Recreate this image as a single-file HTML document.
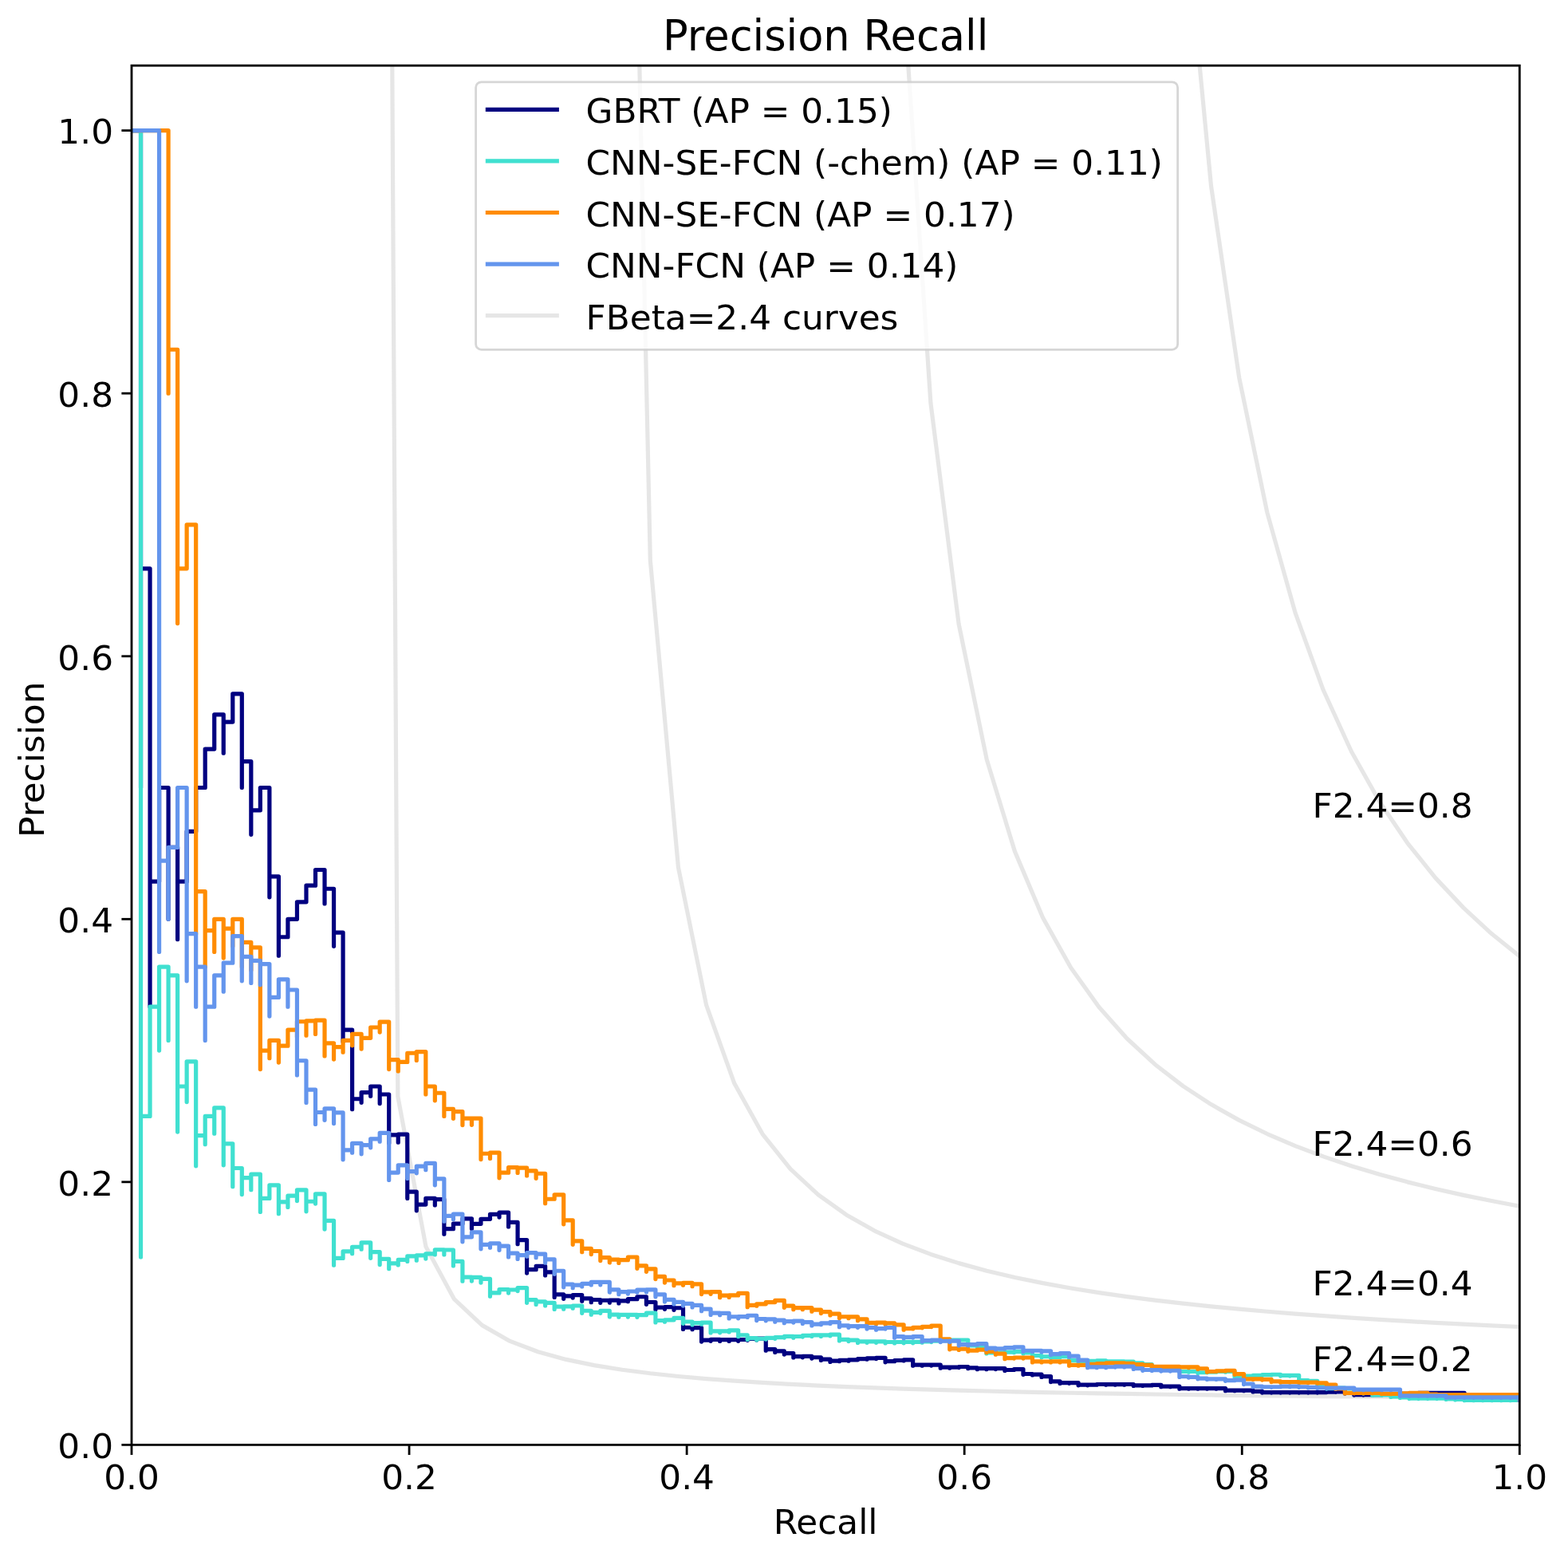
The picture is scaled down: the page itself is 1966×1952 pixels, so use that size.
<!DOCTYPE html>
<html><head><meta charset="utf-8"><title>Precision Recall</title>
<style>html,body{margin:0;padding:0;background:#fff;overflow:hidden;}svg{display:block;}</style>
</head><body>
<svg width="1966" height="1952" viewBox="0 0 1966 1952">
<rect x="0" y="0" width="1966" height="1952" fill="#ffffff"/>
<clipPath id="ax"><rect x="165.0" y="82.2" width="1740.30" height="1729.20"/></clipPath>
<g clip-path="url(#ax)" fill="none" stroke="#808080" stroke-opacity="0.2" stroke-width="5.2" stroke-linecap="square" stroke-linejoin="round">
<path d="M463.69 -5055.79 L498.85 1374.84 L534.01 1563.07 L569.18 1628.28 L604.34 1661.38 L639.5 1681.39 L674.66 1694.8 L709.82 1704.41 L744.98 1711.63 L780.14 1717.26 L815.3 1721.77 L850.47 1725.47 L885.63 1728.55 L920.79 1731.16 L955.95 1733.4 L991.11 1735.34 L1026.27 1737.04 L1061.43 1738.55 L1096.59 1739.88 L1131.75 1741.07 L1166.92 1742.15 L1202.08 1743.12 L1237.24 1744.01 L1272.4 1744.82 L1307.56 1745.56 L1342.72 1746.24 L1377.88 1746.87 L1413.04 1747.45 L1448.2 1747.99 L1483.37 1748.5 L1518.53 1748.97 L1553.69 1749.41 L1588.85 1749.82 L1624.01 1750.21 L1659.17 1750.58 L1694.33 1750.92 L1729.49 1751.25 L1764.66 1751.55 L1799.82 1751.84 L1834.98 1752.12 L1870.14 1752.38 L1905.3 1752.63"/>
<path d="M780.14 -914.99 L815.3 702.12 L850.47 1087.46 L885.63 1260.24 L920.79 1358.31 L955.95 1421.52 L991.11 1465.65 L1026.27 1498.2 L1061.43 1523.21 L1096.59 1543.02 L1131.75 1559.1 L1166.92 1572.42 L1202.08 1583.62 L1237.24 1593.18 L1272.4 1601.44 L1307.56 1608.63 L1342.72 1614.97 L1377.88 1620.58 L1413.04 1625.59 L1448.2 1630.09 L1483.37 1634.15 L1518.53 1637.84 L1553.69 1641.2 L1588.85 1644.28 L1624.01 1647.1 L1659.17 1649.71 L1694.33 1652.12 L1729.49 1654.36 L1764.66 1656.44 L1799.82 1658.38 L1834.98 1660.19 L1870.14 1661.89 L1905.3 1663.48"/>
<path d="M1061.43 -17708.53 L1096.59 -1442.11 L1131.75 -23.93 L1166.92 505.39 L1202.08 782.11 L1237.24 952.22 L1272.4 1067.37 L1307.56 1150.5 L1342.72 1213.33 L1377.88 1262.49 L1413.04 1302 L1448.2 1334.45 L1483.37 1361.58 L1518.53 1384.59 L1553.69 1404.36 L1588.85 1421.53 L1624.01 1436.57 L1659.17 1449.87 L1694.33 1461.7 L1729.49 1472.3 L1764.66 1481.86 L1799.82 1490.51 L1834.98 1498.37 L1870.14 1505.57 L1905.3 1512.16"/>
<path d="M1377.88 -7081.9 L1413.04 -2129.5 L1448.2 -770.51 L1483.37 -135.08 L1518.53 233.15 L1553.69 473.45 L1588.85 642.62 L1624.01 768.16 L1659.17 865.03 L1694.33 942.04 L1729.49 1004.74 L1764.66 1056.76 L1799.82 1100.63 L1834.98 1138.13 L1870.14 1170.54 L1905.3 1198.83"/>
</g>
<g clip-path="url(#ax)" fill="none" stroke-width="5.2" stroke-linecap="square" stroke-linejoin="round">
<path stroke="#000080" d="M1905.3 1755.4 L1905.3 1749.99 L1893.77 1749.99 L1893.77 1750.39 L1893.77 1750.01 L1882.25 1750.01 L1882.25 1750.4 L1882.25 1750 L1870.72 1750 L1870.72 1750.4 L1870.72 1750 L1859.2 1750 L1859.2 1750.4 L1859.2 1748.6 L1847.67 1748.6 L1847.67 1749.01 L1847.67 1748.6 L1836.15 1748.6 L1836.15 1749.02 L1836.15 1746.4 L1824.62 1746.4 L1824.62 1746.83 L1824.62 1746.41 L1813.1 1746.41 L1813.1 1746.84 L1813.1 1746.4 L1801.57 1746.4 L1801.57 1746.83 L1801.57 1746.4 L1790.05 1746.4 L1790.05 1746.84 L1790.05 1746.39 L1778.52 1746.39 L1778.52 1746.83 L1778.52 1746.82 L1767 1746.82 L1767 1747.26 L1755.47 1747.26 L1755.47 1747.7 L1743.95 1747.7 L1743.95 1748.15 L1732.42 1748.15 L1732.42 1748.59 L1720.9 1748.59 L1720.9 1749.04 L1720.9 1748.6 L1709.37 1748.6 L1709.37 1749.04 L1709.37 1748.6 L1697.85 1748.6 L1697.85 1749.05 L1697.85 1746.5 L1686.32 1746.5 L1686.32 1746.97 L1686.32 1744.8 L1674.8 1744.8 L1674.8 1745.29 L1674.8 1745.1 L1663.27 1745.1 L1663.27 1745.59 L1651.75 1745.59 L1651.75 1746.08 L1651.75 1745.59 L1640.22 1745.59 L1640.22 1746.08 L1640.22 1745.59 L1628.7 1745.59 L1628.7 1746.08 L1628.7 1745.59 L1617.17 1745.59 L1617.17 1746.09 L1617.17 1745.59 L1605.65 1745.59 L1605.65 1746.09 L1605.65 1745.59 L1594.12 1745.59 L1594.12 1746.1 L1594.12 1745.59 L1582.6 1745.59 L1582.6 1746.1 L1582.6 1744.35 L1571.07 1744.35 L1571.07 1744.88 L1571.07 1743.11 L1559.55 1743.11 L1559.55 1743.65 L1559.55 1743.09 L1548.02 1743.09 L1548.02 1743.64 L1548.02 1743.1 L1536.49 1743.1 L1536.49 1743.64 L1536.49 1740.61 L1524.97 1740.61 L1524.97 1741.18 L1524.97 1740.62 L1513.44 1740.62 L1513.44 1741.19 L1513.44 1740.62 L1501.92 1740.62 L1501.92 1741.2 L1501.92 1740.63 L1490.39 1740.63 L1490.39 1741.22 L1490.39 1740.61 L1478.87 1740.61 L1478.87 1741.2 L1478.87 1738.14 L1467.34 1738.14 L1467.34 1738.75 L1467.34 1738.15 L1455.82 1738.15 L1455.82 1738.77 L1455.82 1736.29 L1444.29 1736.29 L1444.29 1736.93 L1444.29 1736.78 L1432.77 1736.78 L1432.77 1737.42 L1432.77 1736.78 L1421.24 1736.78 L1421.24 1737.43 L1421.24 1735.52 L1409.72 1735.52 L1409.72 1736.18 L1409.72 1735.54 L1398.19 1735.54 L1398.19 1736.21 L1398.19 1735.53 L1386.67 1735.53 L1386.67 1736.21 L1386.67 1735.52 L1375.14 1735.52 L1375.14 1736.21 L1375.14 1736.14 L1363.62 1736.14 L1363.62 1736.83 L1363.62 1736.14 L1352.09 1736.14 L1352.09 1736.83 L1352.09 1733.65 L1340.57 1733.65 L1340.57 1734.37 L1340.57 1733.66 L1329.04 1733.66 L1329.04 1734.39 L1329.04 1731.81 L1317.52 1731.81 L1317.52 1732.56 L1317.52 1725.58 L1305.99 1725.58 L1305.99 1726.39 L1305.99 1723.12 L1294.47 1723.12 L1294.47 1723.97 L1294.47 1722.48 L1282.94 1722.48 L1282.94 1723.34 L1282.94 1716.6 L1271.42 1716.6 L1271.42 1717.52 L1259.89 1717.52 L1259.89 1718.44 L1259.89 1715.66 L1248.37 1715.66 L1248.37 1716.61 L1248.37 1715.67 L1236.84 1715.67 L1236.84 1716.63 L1236.84 1715.68 L1225.32 1715.68 L1225.32 1716.65 L1225.32 1714.78 L1213.79 1714.78 L1213.79 1715.77 L1213.79 1713.52 L1202.26 1713.52 L1202.26 1714.53 L1202.26 1714.15 L1190.74 1714.15 L1190.74 1715.17 L1190.74 1714.15 L1179.21 1714.15 L1179.21 1715.18 L1179.21 1711.05 L1167.69 1711.05 L1167.69 1712.12 L1167.69 1711.08 L1156.16 1711.08 L1156.16 1712.16 L1156.16 1711.04 L1144.64 1711.04 L1144.64 1712.13 L1144.64 1704.81 L1133.11 1704.81 L1133.11 1705.98 L1133.11 1705.5 L1121.59 1705.5 L1121.59 1706.68 L1110.06 1706.68 L1110.06 1707.86 L1110.06 1702.34 L1098.54 1702.34 L1098.54 1703.59 L1098.54 1702.97 L1087.01 1702.97 L1087.01 1704.23 L1087.01 1703.61 L1075.49 1703.61 L1075.49 1704.87 L1063.96 1704.87 L1063.96 1706.14 L1063.96 1705.44 L1052.44 1705.44 L1052.44 1706.71 L1052.44 1706.1 L1040.91 1706.1 L1040.91 1707.39 L1040.91 1704.18 L1029.39 1704.18 L1029.39 1705.5 L1029.39 1701.74 L1017.86 1701.74 L1017.86 1703.11 L1017.86 1700.45 L1006.34 1700.45 L1006.34 1701.85 L1006.34 1700.53 L994.81 1700.53 L994.81 1701.95 L994.81 1696.55 L983.29 1696.55 L983.29 1698.03 L983.29 1693.94 L971.76 1693.94 L971.76 1695.47 L971.76 1691.62 L960.24 1691.62 L960.24 1693.21 L960.24 1678.11 L948.71 1678.11 L948.71 1679.89 L948.71 1678.48 L937.19 1678.48 L937.19 1680.28 L937.19 1679.5 L925.66 1679.5 L925.66 1681.31 L925.66 1679.58 L914.14 1679.58 L914.14 1681.42 L914.14 1679.66 L902.61 1679.66 L902.61 1681.52 L902.61 1679.41 L891.09 1679.41 L891.09 1681.31 L891.09 1680.16 L879.56 1680.16 L879.56 1682.08 L879.56 1664.61 L868.04 1664.61 L868.04 1666.77 L868.04 1664.23 L856.51 1664.23 L856.51 1666.43 L856.51 1639.75 L844.98 1639.75 L844.98 1642.32 L844.98 1638.72 L833.46 1638.72 L833.46 1641.34 L833.46 1639.2 L821.93 1639.2 L821.93 1641.86 L821.93 1632.5 L810.41 1632.5 L810.41 1635.3 L810.41 1625.73 L798.88 1625.73 L798.88 1628.68 L787.36 1628.68 L787.36 1631.64 L787.36 1630.91 L775.83 1630.91 L775.83 1633.89 L775.83 1630.21 L764.31 1630.21 L764.31 1633.26 L764.31 1630.25 L752.78 1630.25 L752.78 1633.35 L752.78 1629.5 L741.26 1629.5 L741.26 1632.68 L741.26 1627.9 L729.73 1627.9 L729.73 1631.17 L729.73 1623.63 L718.21 1623.63 L718.21 1627.03 L718.21 1624.86 L706.68 1624.86 L706.68 1628.31 L706.68 1622.97 L695.16 1622.97 L695.16 1626.52 L695.16 1594.83 L683.63 1594.83 L683.63 1598.93 L683.63 1587.38 L672.11 1587.38 L672.11 1591.69 L660.58 1591.69 L660.58 1596.03 L660.58 1554.68 L649.06 1554.68 L649.06 1559.74 L649.06 1532.34 L637.53 1532.34 L637.53 1537.88 L637.53 1520.19 L626.01 1520.19 L626.01 1526.07 L626.01 1522.31 L614.48 1522.31 L614.48 1528.3 L602.96 1528.3 L602.96 1534.34 L591.43 1534.34 L591.43 1540.43 L591.43 1527.83 L579.91 1527.83 L579.91 1534.2 L568.38 1534.2 L568.38 1540.63 L556.86 1540.63 L556.86 1547.13 L556.86 1503.57 L545.33 1503.57 L545.33 1510.97 L545.33 1502.44 L533.81 1502.44 L533.81 1510.09 L522.28 1510.09 L522.28 1517.83 L522.28 1494.12 L510.75 1494.12 L510.75 1502.44 L510.75 1422.16 L499.23 1422.16 L499.23 1432.14 L499.23 1422.89 L487.7 1422.89 L487.7 1433.22 L487.7 1371.99 L476.18 1371.99 L476.18 1383.61 L476.18 1362 L464.65 1362 L464.65 1374.23 L464.65 1369.72 L453.13 1369.72 L453.13 1382.29 L453.13 1377.77 L441.6 1377.77 L441.6 1390.69 L441.6 1291.04 L430.08 1291.04 L430.08 1306.07 L430.08 1169.04 L418.55 1169.04 L418.55 1186.37 L418.55 1114.25 L407.03 1114.25 L407.03 1132.89 L407.03 1090.49 L395.5 1090.49 L395.5 1110.21 L383.98 1110.21 L383.98 1130.79 L372.45 1130.79 L372.45 1152.28 L360.93 1152.28 L360.93 1174.75 L349.4 1174.75 L349.4 1198.27 L349.4 1098.84 L337.88 1098.84 L337.88 1124.82 L337.88 987.5 L326.35 987.5 L326.35 1015.91 L314.83 1015.91 L314.83 1046.35 L314.83 954.54 L303.3 954.54 L303.3 987.5 L303.3 869.8 L291.78 869.8 L291.78 905.11 L280.25 905.11 L280.25 944.14 L280.25 895.96 L268.73 895.96 L268.73 939.04 L257.2 939.04 L257.2 987.5 L245.68 987.5 L245.68 1042.43 L234.15 1042.43 L234.15 1105.2 L222.63 1105.2 L222.63 1177.63 L222.63 1062.4 L211.1 1062.4 L211.1 1152.28 L211.1 987.5 L199.58 987.5 L199.58 1105.2 L188.05 1105.2 L188.05 1262.13 L188.05 712.87 L176.53 712.87 L176.53 987.5 L176.53 163.6 L165 163.6"/>
<path stroke="#40e0d0" d="M1905.3 1755.4 L1893.77 1755.4 L1893.77 1755.76 L1893.77 1755.4 L1882.25 1755.4 L1882.25 1755.76 L1882.25 1755.4 L1870.72 1755.4 L1870.72 1755.76 L1870.72 1755.4 L1859.2 1755.4 L1859.2 1755.77 L1859.2 1755.39 L1847.67 1755.39 L1847.67 1755.76 L1847.67 1755.4 L1836.15 1755.4 L1836.15 1755.77 L1836.15 1754.5 L1824.62 1754.5 L1824.62 1754.88 L1824.62 1754 L1813.1 1754 L1813.1 1754.39 L1813.1 1753.2 L1801.57 1753.2 L1801.57 1753.6 L1801.57 1753.19 L1790.05 1753.19 L1790.05 1753.59 L1790.05 1753.2 L1778.52 1753.2 L1778.52 1753.6 L1778.52 1753.2 L1767 1753.2 L1767 1753.6 L1767 1752 L1755.47 1752 L1755.47 1752.41 L1755.47 1751 L1743.95 1751 L1743.95 1751.42 L1743.95 1749 L1732.42 1749 L1732.42 1749.44 L1732.42 1748.99 L1720.9 1748.99 L1720.9 1749.44 L1720.9 1746.51 L1709.37 1746.51 L1709.37 1746.97 L1709.37 1744 L1697.85 1744 L1697.85 1744.48 L1697.85 1741 L1686.32 1741 L1686.32 1741.51 L1686.32 1740.09 L1674.8 1740.09 L1674.8 1740.6 L1663.27 1740.6 L1663.27 1741.12 L1663.27 1738.14 L1651.75 1738.14 L1651.75 1738.68 L1651.75 1731.31 L1640.22 1731.31 L1640.22 1731.9 L1640.22 1730.68 L1628.7 1730.68 L1628.7 1731.28 L1628.7 1724.46 L1617.17 1724.46 L1617.17 1725.11 L1617.17 1724.46 L1605.65 1724.46 L1605.65 1725.11 L1605.65 1723.23 L1594.12 1723.23 L1594.12 1723.89 L1594.12 1723.71 L1582.6 1723.71 L1582.6 1724.38 L1571.07 1724.38 L1571.07 1725.05 L1559.55 1725.05 L1559.55 1725.72 L1548.02 1725.72 L1548.02 1726.39 L1548.02 1719.52 L1536.49 1719.52 L1536.49 1720.24 L1536.49 1719.51 L1524.97 1719.51 L1524.97 1720.24 L1524.97 1720.11 L1513.44 1720.11 L1513.44 1720.84 L1513.44 1720.76 L1501.92 1720.76 L1501.92 1721.49 L1501.92 1719.5 L1490.39 1719.5 L1490.39 1720.25 L1490.39 1719.5 L1478.87 1719.5 L1478.87 1720.26 L1478.87 1715.75 L1467.34 1715.75 L1467.34 1716.54 L1467.34 1715.17 L1455.82 1715.17 L1455.82 1715.97 L1455.82 1714.52 L1444.29 1714.52 L1444.29 1715.34 L1444.29 1710.68 L1432.77 1710.68 L1432.77 1711.53 L1432.77 1708.82 L1421.24 1708.82 L1421.24 1709.7 L1421.24 1706.98 L1409.72 1706.98 L1409.72 1707.87 L1409.72 1706.96 L1398.19 1706.96 L1398.19 1707.87 L1398.19 1706.95 L1386.67 1706.95 L1386.67 1707.86 L1386.67 1705.73 L1375.14 1705.73 L1375.14 1706.67 L1375.14 1706.35 L1363.62 1706.35 L1363.62 1707.29 L1363.62 1706.97 L1352.09 1706.97 L1352.09 1707.91 L1352.09 1705.72 L1340.57 1705.72 L1340.57 1706.68 L1340.57 1700.75 L1329.04 1700.75 L1329.04 1701.76 L1329.04 1701.4 L1317.52 1701.4 L1317.52 1702.42 L1317.52 1700.74 L1305.99 1700.74 L1305.99 1701.77 L1305.99 1699.51 L1294.47 1699.51 L1294.47 1700.57 L1294.47 1695.81 L1282.94 1695.81 L1282.94 1696.9 L1282.94 1694.56 L1271.42 1694.56 L1271.42 1695.68 L1271.42 1695.17 L1259.89 1695.17 L1259.89 1696.3 L1259.89 1695.79 L1248.37 1695.79 L1248.37 1696.92 L1248.37 1695.81 L1236.84 1695.81 L1236.84 1696.95 L1236.84 1687.72 L1225.32 1687.72 L1225.32 1688.95 L1225.32 1686.83 L1213.79 1686.83 L1213.79 1688.09 L1213.79 1679.98 L1202.26 1679.98 L1202.26 1681.31 L1202.26 1680.04 L1190.74 1680.04 L1190.74 1681.39 L1190.74 1680.58 L1179.21 1680.58 L1179.21 1681.93 L1179.21 1681.23 L1167.69 1681.23 L1167.69 1682.6 L1167.69 1681.9 L1156.16 1681.9 L1156.16 1683.27 L1156.16 1682.45 L1144.64 1682.45 L1144.64 1683.84 L1144.64 1682.43 L1133.11 1682.43 L1133.11 1683.83 L1133.11 1682.52 L1121.59 1682.52 L1121.59 1683.94 L1121.59 1682.5 L1110.06 1682.5 L1110.06 1683.93 L1110.06 1681.85 L1098.54 1681.85 L1098.54 1683.31 L1098.54 1681.82 L1087.01 1681.82 L1087.01 1683.29 L1087.01 1681.91 L1075.49 1681.91 L1075.49 1683.4 L1075.49 1680.04 L1063.96 1680.04 L1063.96 1681.57 L1063.96 1679.44 L1052.44 1679.44 L1052.44 1681 L1052.44 1673.19 L1040.91 1673.19 L1040.91 1674.83 L1040.91 1673.78 L1029.39 1673.78 L1029.39 1675.44 L1029.39 1673.78 L1017.86 1673.78 L1017.86 1675.46 L1017.86 1674.39 L1006.34 1674.39 L1006.34 1676.09 L1006.34 1675.48 L994.81 1675.48 L994.81 1677.19 L994.81 1675.34 L983.29 1675.34 L983.29 1677.08 L983.29 1676.61 L971.76 1676.61 L971.76 1678.36 L971.76 1677.28 L960.24 1677.28 L960.24 1679.04 L960.24 1678.26 L948.71 1678.26 L948.71 1680.04 L948.71 1677.69 L937.19 1677.69 L937.19 1679.5 L937.19 1673.74 L925.66 1673.74 L925.66 1675.63 L925.66 1667.92 L914.14 1667.92 L914.14 1669.91 L914.14 1668.78 L902.61 1668.78 L902.61 1670.79 L902.61 1668.89 L891.09 1668.89 L891.09 1670.92 L891.09 1658.06 L879.56 1658.06 L879.56 1660.27 L879.56 1658.69 L868.04 1658.69 L868.04 1660.93 L868.04 1657 L856.51 1657 L856.51 1659.3 L856.51 1652.45 L844.98 1652.45 L844.98 1654.85 L833.46 1654.85 L833.46 1657.25 L833.46 1655.49 L821.93 1655.49 L821.93 1657.93 L821.93 1646.04 L810.41 1646.04 L810.41 1648.65 L798.88 1648.65 L798.88 1651.28 L798.88 1648.4 L787.36 1648.4 L787.36 1651.07 L787.36 1648.43 L775.83 1648.43 L775.83 1651.16 L775.83 1648.16 L764.31 1648.16 L764.31 1650.94 L764.31 1643.39 L752.78 1643.39 L752.78 1646.3 L752.78 1645.32 L741.26 1645.32 L741.26 1648.25 L741.26 1643.26 L729.73 1643.26 L729.73 1646.28 L729.73 1637.01 L718.21 1637.01 L718.21 1640.2 L718.21 1637.95 L706.68 1637.95 L706.68 1641.19 L706.68 1638.14 L695.16 1638.14 L695.16 1641.45 L695.16 1633.47 L683.63 1633.47 L683.63 1636.93 L683.63 1631.86 L672.11 1631.86 L672.11 1635.42 L672.11 1629.69 L660.58 1629.69 L660.58 1633.37 L660.58 1614.58 L649.06 1614.58 L649.06 1618.62 L649.06 1617 L637.53 1617 L637.53 1621.09 L637.53 1616.7 L626.01 1616.7 L626.01 1620.9 L614.48 1620.9 L614.48 1625.13 L614.48 1603.43 L602.96 1603.43 L602.96 1608.1 L602.96 1601.28 L591.43 1601.28 L591.43 1606.12 L591.43 1601.16 L579.91 1601.16 L579.91 1606.14 L579.91 1581.47 L568.38 1581.47 L568.38 1586.99 L568.38 1567.02 L556.86 1567.02 L556.86 1572.99 L556.86 1566.75 L545.33 1566.75 L545.33 1572.9 L545.33 1571.85 L533.81 1571.85 L533.81 1578.08 L533.81 1573.88 L522.28 1573.88 L522.28 1580.26 L522.28 1574.91 L510.75 1574.91 L510.75 1581.47 L510.75 1579.32 L499.23 1579.32 L499.23 1585.99 L499.23 1583.85 L487.7 1583.85 L487.7 1590.64 L487.7 1578.38 L476.18 1578.38 L476.18 1585.56 L476.18 1569.6 L464.65 1569.6 L464.65 1577.29 L464.65 1557.89 L453.13 1557.89 L453.13 1566.19 L453.13 1563.24 L441.6 1563.24 L441.6 1571.72 L441.6 1568.78 L430.08 1568.78 L430.08 1577.45 L418.55 1577.45 L418.55 1586.23 L418.55 1530.38 L407.03 1530.38 L407.03 1541.06 L407.03 1496.82 L395.5 1496.82 L395.5 1509.05 L395.5 1506.25 L383.98 1506.25 L383.98 1518.8 L383.98 1491.93 L372.45 1491.93 L372.45 1505.62 L372.45 1499.19 L360.93 1499.19 L360.93 1513.39 L360.93 1506.92 L349.4 1506.92 L349.4 1521.68 L349.4 1485.91 L337.88 1485.91 L337.88 1502.44 L326.35 1502.44 L326.35 1519.38 L326.35 1472.15 L314.83 1472.15 L314.83 1491.68 L314.83 1476.69 L303.3 1476.69 L303.3 1497.53 L303.3 1464.49 L291.78 1464.49 L291.78 1487.73 L291.78 1433.78 L280.25 1433.78 L280.25 1460.8 L280.25 1388.89 L268.73 1388.89 L268.73 1421.13 L268.73 1399.45 L257.2 1399.45 L257.2 1434.76 L257.2 1423.68 L245.68 1423.68 L245.68 1461.87 L245.68 1330.79 L234.15 1330.79 L234.15 1381.54 L234.15 1362 L222.63 1362 L222.63 1419.07 L222.63 1222.9 L211.1 1222.9 L211.1 1304.38 L211.1 1212.2 L199.58 1212.2 L199.58 1317.06 L199.58 1262.13 L188.05 1262.13 L188.05 1399.45 L176.53 1399.45 L176.53 1576 L176.53 163.6 L165 163.6"/>
<path stroke="#ff8c00" d="M1905.3 1755.4 L1905.3 1748.6 L1893.77 1748.6 L1893.77 1749 L1893.77 1748.6 L1882.25 1748.6 L1882.25 1749.01 L1882.25 1748.61 L1870.72 1748.61 L1870.72 1749.01 L1870.72 1748.59 L1859.2 1748.59 L1859.2 1749 L1859.2 1748.6 L1847.67 1748.6 L1847.67 1749.01 L1847.67 1748.6 L1836.15 1748.6 L1836.15 1749.02 L1836.15 1748.61 L1824.62 1748.61 L1824.62 1749.02 L1824.62 1748.59 L1813.1 1748.59 L1813.1 1749.01 L1813.1 1748.6 L1801.57 1748.6 L1801.57 1749.02 L1801.57 1748.01 L1790.05 1748.01 L1790.05 1748.44 L1790.05 1746.39 L1778.52 1746.39 L1778.52 1746.83 L1778.52 1746.42 L1767 1746.42 L1767 1746.86 L1755.47 1746.86 L1755.47 1747.31 L1743.95 1747.31 L1743.95 1747.76 L1743.95 1747.3 L1732.42 1747.3 L1732.42 1747.75 L1732.42 1746.41 L1720.9 1746.41 L1720.9 1746.86 L1720.9 1746.39 L1709.37 1746.39 L1709.37 1746.86 L1709.37 1746.4 L1697.85 1746.4 L1697.85 1746.87 L1697.85 1746.41 L1686.32 1746.41 L1686.32 1746.88 L1686.32 1741.01 L1674.8 1741.01 L1674.8 1741.52 L1674.8 1736 L1663.27 1736 L1663.27 1736.55 L1663.27 1733.79 L1651.75 1733.79 L1651.75 1734.36 L1651.75 1733.16 L1640.22 1733.16 L1640.22 1733.74 L1640.22 1733.17 L1628.7 1733.17 L1628.7 1733.75 L1628.7 1732.55 L1617.17 1732.55 L1617.17 1733.14 L1617.17 1732.55 L1605.65 1732.55 L1605.65 1733.14 L1605.65 1731.93 L1594.12 1731.93 L1594.12 1732.54 L1594.12 1729.44 L1582.6 1729.44 L1582.6 1730.07 L1582.6 1728.81 L1571.07 1728.81 L1571.07 1729.45 L1571.07 1728.81 L1559.55 1728.81 L1559.55 1729.45 L1559.55 1722.63 L1548.02 1722.63 L1548.02 1723.32 L1548.02 1718.26 L1536.49 1718.26 L1536.49 1718.99 L1536.49 1718.77 L1524.97 1718.77 L1524.97 1719.51 L1513.44 1719.51 L1513.44 1720.25 L1513.44 1715.77 L1501.92 1715.77 L1501.92 1716.54 L1501.92 1713.93 L1490.39 1713.93 L1490.39 1714.72 L1490.39 1713.92 L1478.87 1713.92 L1478.87 1714.72 L1478.87 1713.31 L1467.34 1713.31 L1467.34 1714.12 L1467.34 1713.3 L1455.82 1713.3 L1455.82 1714.11 L1455.82 1713.29 L1444.29 1713.29 L1444.29 1714.11 L1444.29 1711.29 L1432.77 1711.29 L1432.77 1712.13 L1432.77 1710.7 L1421.24 1710.7 L1421.24 1711.56 L1421.24 1709.46 L1409.72 1709.46 L1409.72 1710.34 L1409.72 1708.83 L1398.19 1708.83 L1398.19 1709.72 L1398.19 1708.83 L1386.67 1708.83 L1386.67 1709.73 L1386.67 1709.49 L1375.14 1709.49 L1375.14 1710.4 L1363.62 1710.4 L1363.62 1711.3 L1352.09 1711.3 L1352.09 1712.2 L1352.09 1711.33 L1340.57 1711.33 L1340.57 1712.24 L1340.57 1706.94 L1329.04 1706.94 L1329.04 1707.9 L1329.04 1706.93 L1317.52 1706.93 L1317.52 1707.89 L1317.52 1706.98 L1305.99 1706.98 L1305.99 1707.96 L1305.99 1706.96 L1294.47 1706.96 L1294.47 1707.95 L1294.47 1701.99 L1282.94 1701.99 L1282.94 1703.04 L1282.94 1702 L1271.42 1702 L1271.42 1703.05 L1271.42 1702.6 L1259.89 1702.6 L1259.89 1703.66 L1259.89 1697.05 L1248.37 1697.05 L1248.37 1698.17 L1248.37 1694.5 L1236.84 1694.5 L1236.84 1695.66 L1236.84 1692.05 L1225.32 1692.05 L1225.32 1693.24 L1225.32 1693.06 L1213.79 1693.06 L1213.79 1694.25 L1213.79 1691.15 L1202.26 1691.15 L1202.26 1692.38 L1202.26 1690.53 L1190.74 1690.53 L1190.74 1691.78 L1190.74 1678.8 L1179.21 1678.8 L1179.21 1680.17 L1179.21 1662.06 L1167.69 1662.06 L1167.69 1663.61 L1167.69 1663.3 L1156.16 1663.3 L1156.16 1664.85 L1156.16 1664.4 L1144.64 1664.4 L1144.64 1665.96 L1144.64 1665.65 L1133.11 1665.65 L1133.11 1667.22 L1133.11 1660.78 L1121.59 1660.78 L1121.59 1662.42 L1121.59 1658.93 L1110.06 1658.93 L1110.06 1660.6 L1110.06 1658.2 L1098.54 1658.2 L1098.54 1659.9 L1098.54 1658.34 L1087.01 1658.34 L1087.01 1660.05 L1087.01 1653.9 L1075.49 1653.9 L1075.49 1655.69 L1075.49 1650.89 L1063.96 1650.89 L1063.96 1652.72 L1063.96 1650.74 L1052.44 1650.74 L1052.44 1652.6 L1052.44 1647.05 L1040.91 1647.05 L1040.91 1648.97 L1040.91 1644.65 L1029.39 1644.65 L1029.39 1646.62 L1029.39 1642.11 L1017.86 1642.11 L1017.86 1644.13 L1017.86 1639.66 L1006.34 1639.66 L1006.34 1641.74 L1006.34 1639.56 L994.81 1639.56 L994.81 1641.67 L994.81 1637.18 L983.29 1637.18 L983.29 1639.35 L983.29 1630.3 L971.76 1630.3 L971.76 1632.57 L960.24 1632.57 L960.24 1634.85 L948.71 1634.85 L948.71 1637.14 L948.71 1636.32 L937.19 1636.32 L937.19 1638.63 L937.19 1621.38 L925.66 1621.38 L925.66 1623.89 L914.14 1623.89 L914.14 1626.41 L914.14 1624.15 L902.61 1624.15 L902.61 1626.71 L902.61 1619.66 L891.09 1619.66 L891.09 1622.31 L891.09 1619.87 L879.56 1619.87 L879.56 1622.56 L879.56 1609.89 L868.04 1609.89 L868.04 1612.75 L868.04 1608.34 L856.51 1608.34 L856.51 1611.26 L856.51 1608.8 L844.98 1608.8 L844.98 1611.77 L844.98 1604.99 L833.46 1604.99 L833.46 1608.05 L833.46 1600.42 L821.93 1600.42 L821.93 1603.6 L821.93 1590.92 L810.41 1590.92 L810.41 1594.28 L810.41 1586.88 L798.88 1586.88 L798.88 1590.35 L798.88 1576 L787.36 1576 L787.36 1579.68 L775.83 1579.68 L775.83 1583.38 L775.83 1579.13 L764.31 1579.13 L764.31 1582.91 L764.31 1576.64 L752.78 1576.64 L752.78 1580.53 L752.78 1568.52 L741.26 1568.52 L741.26 1572.59 L741.26 1565.46 L729.73 1565.46 L729.73 1569.66 L729.73 1555.89 L718.21 1555.89 L718.21 1560.31 L718.21 1529.93 L706.68 1529.93 L706.68 1534.81 L706.68 1497.85 L695.16 1497.85 L695.16 1503.27 L683.63 1503.27 L683.63 1508.74 L683.63 1471.26 L672.11 1471.26 L672.11 1477.28 L672.11 1467.78 L660.58 1467.78 L660.58 1473.99 L660.58 1464.07 L649.06 1464.07 L649.06 1470.48 L649.06 1463.62 L637.53 1463.62 L637.53 1470.19 L626.01 1470.19 L626.01 1476.82 L626.01 1445.22 L614.48 1445.22 L614.48 1452.38 L614.48 1446.26 L602.96 1446.26 L602.96 1453.59 L602.96 1402.14 L591.43 1402.14 L591.43 1410.29 L591.43 1402.21 L579.91 1402.21 L579.91 1410.58 L579.91 1393.65 L568.38 1393.65 L568.38 1402.37 L568.38 1390.43 L556.86 1390.43 L556.86 1399.45 L556.86 1370.26 L545.33 1370.26 L545.33 1379.83 L545.33 1362 L533.81 1362 L533.81 1371.99 L533.81 1318.6 L522.28 1318.6 L522.28 1329.5 L522.28 1320.23 L510.75 1320.23 L510.75 1331.46 L499.23 1331.46 L499.23 1342.91 L499.23 1328.71 L487.7 1328.71 L487.7 1340.6 L487.7 1281.07 L476.18 1281.07 L476.18 1294.07 L476.18 1287.98 L464.65 1287.98 L464.65 1301.37 L453.13 1301.37 L453.13 1315.07 L453.13 1296.46 L441.6 1296.46 L441.6 1310.8 L441.6 1304.38 L430.08 1304.38 L430.08 1319.2 L430.08 1312.72 L418.55 1312.72 L418.55 1328.05 L418.55 1307.91 L407.03 1307.91 L407.03 1324.02 L407.03 1279.03 L395.5 1279.03 L395.5 1296.46 L395.5 1279.85 L383.98 1279.85 L383.98 1298.15 L383.98 1280.75 L372.45 1280.75 L372.45 1300.01 L372.45 1291.04 L360.93 1291.04 L360.93 1311.18 L349.4 1311.18 L349.4 1332.04 L349.4 1304.38 L337.88 1304.38 L337.88 1326.75 L337.88 1317.06 L326.35 1317.06 L326.35 1340.6 L326.35 1187.91 L314.83 1187.91 L314.83 1216.36 L314.83 1181.36 L303.3 1181.36 L303.3 1212.2 L303.3 1152.28 L291.78 1152.28 L291.78 1186.37 L291.78 1164.05 L280.25 1164.05 L280.25 1201.1 L280.25 1152.28 L268.73 1152.28 L268.73 1193.48 L268.73 1166.61 L257.2 1166.61 L257.2 1212.2 L257.2 1117.59 L245.68 1117.59 L245.68 1170.59 L245.68 657.94 L234.15 657.94 L234.15 712.87 L222.63 712.87 L222.63 781.53 L222.63 438.23 L211.1 438.23 L211.1 493.16 L211.1 163.6 L165 163.6"/>
<path stroke="#6495ed" d="M1905.3 1755.4 L1905.3 1751.9 L1893.77 1751.9 L1893.77 1752.28 L1893.77 1751.9 L1882.25 1751.9 L1882.25 1752.28 L1882.25 1751.89 L1870.72 1751.89 L1870.72 1752.28 L1870.72 1751.9 L1859.2 1751.9 L1859.2 1752.29 L1859.2 1751.9 L1847.67 1751.9 L1847.67 1752.29 L1847.67 1751.89 L1836.15 1751.89 L1836.15 1752.29 L1836.15 1751.91 L1824.62 1751.91 L1824.62 1752.3 L1824.62 1751.9 L1813.1 1751.9 L1813.1 1752.3 L1813.1 1749.89 L1801.57 1749.89 L1801.57 1750.31 L1801.57 1749.91 L1790.05 1749.91 L1790.05 1750.32 L1790.05 1749.9 L1778.52 1749.9 L1778.52 1750.32 L1778.52 1749.9 L1767 1749.9 L1767 1750.32 L1767 1749.9 L1755.47 1749.9 L1755.47 1750.32 L1755.47 1742.2 L1743.95 1742.2 L1743.95 1742.68 L1743.95 1742.19 L1732.42 1742.19 L1732.42 1742.68 L1732.42 1742.19 L1720.9 1742.19 L1720.9 1742.68 L1720.9 1742.21 L1709.37 1742.21 L1709.37 1742.7 L1709.37 1742.2 L1697.85 1742.2 L1697.85 1742.7 L1697.85 1740.2 L1686.32 1740.2 L1686.32 1740.71 L1686.32 1740.2 L1674.8 1740.2 L1674.8 1740.72 L1674.8 1740.21 L1663.27 1740.21 L1663.27 1740.73 L1663.27 1740 L1651.75 1740 L1651.75 1740.52 L1651.75 1739.37 L1640.22 1739.37 L1640.22 1739.9 L1640.22 1738.77 L1628.7 1738.77 L1628.7 1739.31 L1628.7 1738.13 L1617.17 1738.13 L1617.17 1738.68 L1617.17 1738.19 L1605.65 1738.19 L1605.65 1738.75 L1594.12 1738.75 L1594.12 1739.3 L1594.12 1738.76 L1582.6 1738.76 L1582.6 1739.32 L1582.6 1738.12 L1571.07 1738.12 L1571.07 1738.69 L1571.07 1735.02 L1559.55 1735.02 L1559.55 1735.62 L1559.55 1730.05 L1548.02 1730.05 L1548.02 1730.69 L1536.49 1730.69 L1536.49 1731.33 L1536.49 1728.84 L1524.97 1728.84 L1524.97 1729.5 L1524.97 1728.84 L1513.44 1728.84 L1513.44 1729.5 L1513.44 1728.19 L1501.92 1728.19 L1501.92 1728.87 L1501.92 1726.33 L1490.39 1726.33 L1490.39 1727.03 L1490.39 1725.73 L1478.87 1725.73 L1478.87 1726.44 L1478.87 1718.27 L1467.34 1718.27 L1467.34 1719.04 L1467.34 1718.25 L1455.82 1718.25 L1455.82 1719.03 L1455.82 1717.62 L1444.29 1717.62 L1444.29 1718.41 L1444.29 1717.51 L1432.77 1717.51 L1432.77 1718.3 L1432.77 1715.65 L1421.24 1715.65 L1421.24 1716.47 L1421.24 1713.14 L1409.72 1713.14 L1409.72 1713.99 L1409.72 1713.19 L1398.19 1713.19 L1398.19 1714.04 L1398.19 1713.77 L1386.67 1713.77 L1386.67 1714.63 L1386.67 1713.77 L1375.14 1713.77 L1375.14 1714.63 L1375.14 1713.81 L1363.62 1713.81 L1363.62 1714.69 L1363.62 1705.09 L1352.09 1705.09 L1352.09 1706.05 L1352.09 1700.11 L1340.57 1700.11 L1340.57 1701.11 L1340.57 1696.59 L1329.04 1696.59 L1329.04 1697.64 L1317.52 1697.64 L1317.52 1698.69 L1317.52 1693.95 L1305.99 1693.95 L1305.99 1695.04 L1305.99 1693.27 L1294.47 1693.27 L1294.47 1694.38 L1294.47 1693.27 L1282.94 1693.27 L1282.94 1694.39 L1282.94 1688.92 L1271.42 1688.92 L1271.42 1690.09 L1271.42 1689.62 L1259.89 1689.62 L1259.89 1690.8 L1248.37 1690.8 L1248.37 1691.98 L1248.37 1690.2 L1236.84 1690.2 L1236.84 1691.4 L1236.84 1684.65 L1225.32 1684.65 L1225.32 1685.91 L1225.32 1685.59 L1213.79 1685.59 L1213.79 1686.86 L1213.79 1685.6 L1202.26 1685.6 L1202.26 1686.88 L1202.26 1681.2 L1190.74 1681.2 L1190.74 1682.53 L1190.74 1681.27 L1179.21 1681.27 L1179.21 1682.62 L1179.21 1680.05 L1167.69 1680.05 L1167.69 1681.43 L1167.69 1680.6 L1156.16 1680.6 L1156.16 1681.98 L1156.16 1675.66 L1144.64 1675.66 L1144.64 1677.11 L1144.64 1676.33 L1133.11 1676.33 L1133.11 1677.79 L1133.11 1675.7 L1121.59 1675.7 L1121.59 1677.18 L1121.59 1664.5 L1110.06 1664.5 L1110.06 1666.11 L1110.06 1665.64 L1098.54 1665.64 L1098.54 1667.26 L1098.54 1664.4 L1087.01 1664.4 L1087.01 1666.06 L1087.01 1662.61 L1075.49 1662.61 L1075.49 1664.31 L1075.49 1662.63 L1063.96 1662.63 L1063.96 1664.34 L1063.96 1661.95 L1052.44 1661.95 L1052.44 1663.69 L1052.44 1657.61 L1040.91 1657.61 L1040.91 1659.42 L1040.91 1658.86 L1029.39 1658.86 L1029.39 1660.69 L1029.39 1660.13 L1017.86 1660.13 L1017.86 1661.97 L1017.86 1657.63 L1006.34 1657.63 L1006.34 1659.52 L1006.34 1656.19 L994.81 1656.19 L994.81 1658.12 L994.81 1656.72 L983.29 1656.72 L983.29 1658.67 L983.29 1655.2 L971.76 1655.2 L971.76 1657.19 L971.76 1653.82 L960.24 1653.82 L960.24 1655.86 L960.24 1653.49 L948.71 1653.49 L948.71 1655.56 L948.71 1649.24 L937.19 1649.24 L937.19 1651.4 L937.19 1650.7 L925.66 1650.7 L925.66 1652.87 L925.66 1650.76 L914.14 1650.76 L914.14 1652.96 L914.14 1646.37 L902.61 1646.37 L902.61 1648.65 L902.61 1646.1 L891.09 1646.1 L891.09 1648.43 L891.09 1641.22 L879.56 1641.22 L879.56 1643.64 L879.56 1636.46 L868.04 1636.46 L868.04 1638.99 L868.04 1634.44 L856.51 1634.44 L856.51 1637.03 L856.51 1632.29 L844.98 1632.29 L844.98 1634.96 L844.98 1629.34 L833.46 1629.34 L833.46 1632.09 L833.46 1622.89 L821.93 1622.89 L821.93 1625.78 L821.93 1616.94 L810.41 1616.94 L810.41 1619.95 L810.41 1617.13 L798.88 1617.13 L798.88 1620.2 L798.88 1618.98 L787.36 1618.98 L787.36 1622.08 L787.36 1619.63 L775.83 1619.63 L775.83 1622.77 L775.83 1616.89 L764.31 1616.89 L764.31 1620.14 L764.31 1607.39 L752.78 1607.39 L752.78 1610.83 L752.78 1607.42 L741.26 1607.42 L741.26 1610.94 L741.26 1609.46 L729.73 1609.46 L729.73 1613.02 L729.73 1611.05 L718.21 1611.05 L718.21 1614.65 L718.21 1610.14 L706.68 1610.14 L706.68 1613.83 L706.68 1593.24 L695.16 1593.24 L695.16 1597.28 L695.16 1578.89 L683.63 1578.89 L683.63 1583.24 L683.63 1572.2 L672.11 1572.2 L672.11 1576.76 L672.11 1570.53 L660.58 1570.53 L660.58 1575.22 L660.58 1573.63 L649.06 1573.63 L649.06 1578.38 L649.06 1571.1 L637.53 1571.1 L637.53 1576 L637.53 1562.1 L626.01 1562.1 L626.01 1567.28 L626.01 1558.86 L614.48 1558.86 L614.48 1564.23 L614.48 1560.37 L602.96 1560.37 L602.96 1565.85 L602.96 1544.95 L591.43 1544.95 L591.43 1550.85 L579.91 1550.85 L579.91 1556.8 L579.91 1522.03 L568.38 1522.03 L568.38 1528.69 L568.38 1524.47 L556.86 1524.47 L556.86 1531.27 L556.86 1477.92 L545.33 1477.92 L545.33 1485.79 L545.33 1458.3 L533.81 1458.3 L533.81 1466.76 L533.81 1462.2 L522.28 1462.2 L522.28 1470.85 L522.28 1468.57 L510.75 1468.57 L510.75 1477.39 L510.75 1460.8 L499.23 1460.8 L499.23 1470.07 L487.7 1470.07 L487.7 1479.47 L487.7 1420.4 L476.18 1420.4 L476.18 1431.14 L476.18 1427.86 L464.65 1427.86 L464.65 1438.85 L464.65 1435.59 L453.13 1435.59 L453.13 1446.84 L453.13 1433.46 L441.6 1433.46 L441.6 1445.22 L441.6 1441.8 L430.08 1441.8 L430.08 1453.86 L430.08 1394.92 L418.55 1394.92 L418.55 1408.6 L418.55 1389.87 L407.03 1389.87 L407.03 1404.3 L407.03 1394.49 L395.5 1394.49 L395.5 1409.5 L395.5 1366.05 L383.98 1366.05 L383.98 1382.52 L383.98 1329.74 L372.45 1329.74 L372.45 1347.96 L372.45 1241.01 L360.93 1241.01 L360.93 1262.13 L360.93 1227.8 L349.4 1227.8 L349.4 1250.45 L337.88 1250.45 L337.88 1274.07 L337.88 1208.55 L326.35 1208.55 L326.35 1234.67 L326.35 1204.32 L314.83 1204.32 L314.83 1232.44 L314.83 1199.36 L303.3 1199.36 L303.3 1229.82 L303.3 1173.54 L291.78 1173.54 L291.78 1207.21 L280.25 1207.21 L280.25 1243.19 L280.25 1222.9 L268.73 1222.9 L268.73 1262.13 L257.2 1262.13 L257.2 1304.38 L257.2 1212.2 L245.68 1212.2 L245.68 1262.13 L245.68 1170.59 L234.15 1170.59 L234.15 1229.82 L234.15 987.5 L222.63 987.5 L222.63 1062.4 L211.1 1062.4 L211.1 1152.28 L211.1 1079.04 L199.58 1079.04 L199.58 1193.48 L199.58 163.6 L165 163.6"/>
</g>
<text transform="translate(1645.45 1718.60) scale(1 0.955)" style="font-family:'DejaVu Sans','Liberation Sans',sans-serif;font-size:43.8px">F2.4=0.2</text>
<text transform="translate(1645.45 1623.78) scale(1 0.955)" style="font-family:'DejaVu Sans','Liberation Sans',sans-serif;font-size:43.8px">F2.4=0.4</text>
<text transform="translate(1645.45 1448.90) scale(1 0.955)" style="font-family:'DejaVu Sans','Liberation Sans',sans-serif;font-size:43.8px">F2.4=0.6</text>
<text transform="translate(1645.45 1025.01) scale(1 0.955)" style="font-family:'DejaVu Sans','Liberation Sans',sans-serif;font-size:43.8px">F2.4=0.8</text>
<rect x="165.0" y="82.2" width="1740.30" height="1729.20" fill="none" stroke="#000" stroke-width="2.8" stroke-linejoin="miter"/>
<line x1="165.00" y1="1811.4" x2="165.00" y2="1824.00" stroke="#000" stroke-width="2.8"/>
<text transform="translate(165.00 1866.80) scale(1 0.955)" text-anchor="middle" style="font-family:'DejaVu Sans','Liberation Sans',sans-serif;font-size:43.8px">0.0</text>
<line x1="152.40" y1="1811.40" x2="165.0" y2="1811.40" stroke="#000" stroke-width="2.8"/>
<text transform="translate(142.00 1828.20) scale(1 0.955)" text-anchor="end" style="font-family:'DejaVu Sans','Liberation Sans',sans-serif;font-size:43.8px">0.0</text>
<line x1="513.06" y1="1811.4" x2="513.06" y2="1824.00" stroke="#000" stroke-width="2.8"/>
<text transform="translate(513.06 1866.80) scale(1 0.955)" text-anchor="middle" style="font-family:'DejaVu Sans','Liberation Sans',sans-serif;font-size:43.8px">0.2</text>
<line x1="152.40" y1="1481.84" x2="165.0" y2="1481.84" stroke="#000" stroke-width="2.8"/>
<text transform="translate(142.00 1498.64) scale(1 0.955)" text-anchor="end" style="font-family:'DejaVu Sans','Liberation Sans',sans-serif;font-size:43.8px">0.2</text>
<line x1="861.12" y1="1811.4" x2="861.12" y2="1824.00" stroke="#000" stroke-width="2.8"/>
<text transform="translate(861.12 1866.80) scale(1 0.955)" text-anchor="middle" style="font-family:'DejaVu Sans','Liberation Sans',sans-serif;font-size:43.8px">0.4</text>
<line x1="152.40" y1="1152.28" x2="165.0" y2="1152.28" stroke="#000" stroke-width="2.8"/>
<text transform="translate(142.00 1169.08) scale(1 0.955)" text-anchor="end" style="font-family:'DejaVu Sans','Liberation Sans',sans-serif;font-size:43.8px">0.4</text>
<line x1="1209.18" y1="1811.4" x2="1209.18" y2="1824.00" stroke="#000" stroke-width="2.8"/>
<text transform="translate(1209.18 1866.80) scale(1 0.955)" text-anchor="middle" style="font-family:'DejaVu Sans','Liberation Sans',sans-serif;font-size:43.8px">0.6</text>
<line x1="152.40" y1="822.72" x2="165.0" y2="822.72" stroke="#000" stroke-width="2.8"/>
<text transform="translate(142.00 839.52) scale(1 0.955)" text-anchor="end" style="font-family:'DejaVu Sans','Liberation Sans',sans-serif;font-size:43.8px">0.6</text>
<line x1="1557.24" y1="1811.4" x2="1557.24" y2="1824.00" stroke="#000" stroke-width="2.8"/>
<text transform="translate(1557.24 1866.80) scale(1 0.955)" text-anchor="middle" style="font-family:'DejaVu Sans','Liberation Sans',sans-serif;font-size:43.8px">0.8</text>
<line x1="152.40" y1="493.16" x2="165.0" y2="493.16" stroke="#000" stroke-width="2.8"/>
<text transform="translate(142.00 509.96) scale(1 0.955)" text-anchor="end" style="font-family:'DejaVu Sans','Liberation Sans',sans-serif;font-size:43.8px">0.8</text>
<line x1="1905.30" y1="1811.4" x2="1905.30" y2="1824.00" stroke="#000" stroke-width="2.8"/>
<text transform="translate(1905.30 1866.80) scale(1 0.955)" text-anchor="middle" style="font-family:'DejaVu Sans','Liberation Sans',sans-serif;font-size:43.8px">1.0</text>
<line x1="152.40" y1="163.60" x2="165.0" y2="163.60" stroke="#000" stroke-width="2.8"/>
<text transform="translate(142.00 180.40) scale(1 0.955)" text-anchor="end" style="font-family:'DejaVu Sans','Liberation Sans',sans-serif;font-size:43.8px">1.0</text>
<text transform="translate(1035.15 1922.50) scale(1 0.955)" text-anchor="middle" style="font-family:'DejaVu Sans','Liberation Sans',sans-serif;font-size:43.8px">Recall</text>
<text transform="translate(54.50 952.30) rotate(-90) scale(1 0.955)" text-anchor="middle" style="font-family:'DejaVu Sans','Liberation Sans',sans-serif;font-size:43.8px">Precision</text>
<text transform="translate(1035.15 63.40) scale(1 1.0)" text-anchor="middle" style="font-family:'DejaVu Sans','Liberation Sans',sans-serif;font-size:52.6px">Precision Recall</text>
<rect x="596.6" y="102.8" width="880.00" height="335.60" rx="7" ry="7" fill="#fff" fill-opacity="0.8" stroke="#cccccc" stroke-opacity="0.8" stroke-width="2.8"/>
<line x1="611.40" y1="137.40" x2="698.30" y2="137.40" stroke="#000080" stroke-width="5.2" stroke-linecap="square"/>
<text transform="translate(734.50 154.40) scale(1 0.955)" style="font-family:'DejaVu Sans','Liberation Sans',sans-serif;font-size:43.8px">GBRT (AP = 0.15)</text>
<line x1="611.40" y1="201.95" x2="698.30" y2="201.95" stroke="#40e0d0" stroke-width="5.2" stroke-linecap="square"/>
<text transform="translate(734.50 218.95) scale(1 0.955)" style="font-family:'DejaVu Sans','Liberation Sans',sans-serif;font-size:43.8px">CNN-SE-FCN (-chem) (AP = 0.11)</text>
<line x1="611.40" y1="266.50" x2="698.30" y2="266.50" stroke="#ff8c00" stroke-width="5.2" stroke-linecap="square"/>
<text transform="translate(734.50 283.50) scale(1 0.955)" style="font-family:'DejaVu Sans','Liberation Sans',sans-serif;font-size:43.8px">CNN-SE-FCN (AP = 0.17)</text>
<line x1="611.40" y1="331.05" x2="698.30" y2="331.05" stroke="#6495ed" stroke-width="5.2" stroke-linecap="square"/>
<text transform="translate(734.50 348.05) scale(1 0.955)" style="font-family:'DejaVu Sans','Liberation Sans',sans-serif;font-size:43.8px">CNN-FCN (AP = 0.14)</text>
<line x1="611.40" y1="395.60" x2="698.30" y2="395.60" stroke="#808080" stroke-opacity="0.2" stroke-width="5.2" stroke-linecap="square"/>
<text transform="translate(734.50 412.60) scale(1 0.955)" style="font-family:'DejaVu Sans','Liberation Sans',sans-serif;font-size:43.8px">FBeta=2.4 curves</text>
</svg>
</body></html>
